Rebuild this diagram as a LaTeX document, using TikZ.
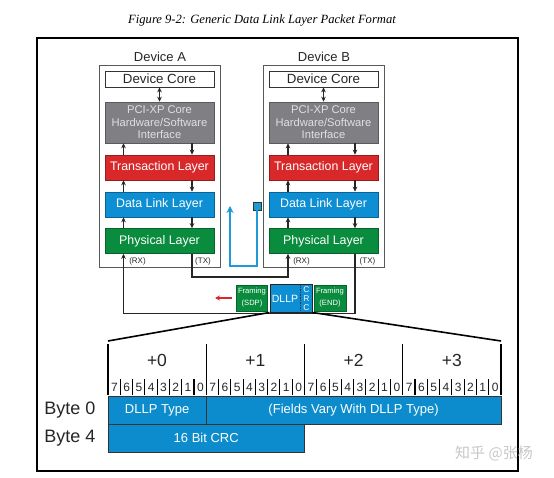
\documentclass[tikz,border=0pt]{standalone}
\usepackage{fontspec}
\setmainfont{Liberation Sans}
\newfontfamily\titlefont{Liberation Serif}
\newfontfamily\cjk{Noto Sans CJK SC}
\usetikzlibrary{arrows.meta}

\definecolor{tlred}{HTML}{D9282A}
\definecolor{dlblue}{HTML}{0E8ED3}
\definecolor{phgreen}{HTML}{0A8C3E}
\definecolor{coregray}{HTML}{808084}
\definecolor{rowblue}{HTML}{0C8CCD}
\definecolor{linkcyan}{HTML}{1E9AD6}

\tikzset{
  devframe/.style={draw=black!65, line width=0.9pt, minimum width=121pt, minimum height=202pt, inner sep=0pt},
  devlabel/.style={text=black!85, font=\fontsize{13}{15}\selectfont},
  corebox/.style={draw=black!80, line width=0.7pt, fill=white, minimum width=109pt, minimum height=16pt, inner sep=0pt, text=black!85, font=\fontsize{13.3}{15}\selectfont},
  pcibox/.style={draw=coregray!70!black, line width=0.6pt, fill=coregray, minimum width=109pt, minimum height=41pt, inner sep=0pt, align=center, text=white!88!black, font=\fontsize{11.2}{12.5}\selectfont},
  layerbox/.style={line width=0.6pt, minimum width=109pt, minimum height=25pt, inner sep=0pt, text=white, font=\fontsize{12.4}{14}\selectfont},
  layerarrow/.style={line width=1.2pt, black!85, -{Stealth[length=5pt,width=4.6pt]}},
  porttext/.style={text=black!85, font=\fontsize{8}{9}\selectfont},
  wire/.style={line width=1.3pt, black!85},
  framebox/.style={draw=phgreen!70!black, line width=0.6pt, fill=phgreen, minimum width=31pt, minimum height=26pt, inner sep=0pt, align=center, text=white, font=\fontsize{7.6}{12}\selectfont},
  rowcell/.style={draw=black!80, line width=0.7pt, fill=rowblue, minimum height=28pt, inner sep=0pt, text=white, font=\fontsize{13}{15}\selectfont},
  bytetext/.style={text=black!85, font=\fontsize{17.5}{20}\selectfont},
  bittext/.style={text=black!85, font=\fontsize{12}{14}\selectfont, inner sep=0pt},
  rowlabel/.style={text=black!85, font=\fontsize{18}{20}\selectfont}
}

\begin{document}
\begin{tikzpicture}[x=1pt, y=-1pt]
  \useasboundingbox (0,0) rectangle (554,478);

  % title and outer frame
  \node (title) at (262,20) {\titlefont\itshape\fontsize{12.6}{14}\selectfont Figure 9-2: Generic Data Link Layer Packet Format};
  \draw[line width=1.2pt] (37,38) rectangle (518,471);

  % Device A
  \node[devframe] (devA) at (159.5,166) {};
  \node[devlabel] (labA) at (160,57) {Device A};
  \node[corebox] (coreA) at (159.5,79) {Device Core};
  \node[pcibox] (pciA) at (159.5,122.5) {PCI-XP Core\\Hardware/Software\\Interface};
  \node[layerbox, draw=tlred!70!black, fill=tlred] (transA) at (159.5,167.5) {Transaction Layer};
  \node[layerbox, draw=dlblue!70!black, fill=dlblue] (dllA) at (159.5,204.5) {Data Link Layer};
  \node[layerbox, draw=phgreen!70!black, fill=phgreen] (phyA) at (159.5,241) {Physical Layer};
  \node[porttext] (rxtextA) at (137.5,261) {(RX)};
  \node[porttext] (txtextA) at (203,261) {(TX)};

  \draw[layerarrow, {Stealth[length=5pt,width=4.6pt]}-{Stealth[length=5pt,width=4.6pt]}] (coreA) -- (pciA);
  \draw[layerarrow] ([xshift=-36pt]transA.north) -- ([xshift=-36pt]pciA.south);
  \draw[layerarrow] ([xshift=-36pt]dllA.north) -- ([xshift=-36pt]transA.south);
  \draw[layerarrow] ([xshift=-36pt]phyA.north) -- ([xshift=-36pt]dllA.south);
  \draw[layerarrow] ([xshift=32.5pt]pciA.south) -- ([xshift=32.5pt]transA.north);
  \draw[layerarrow] ([xshift=32.5pt]transA.south) -- ([xshift=32.5pt]dllA.north);
  \draw[layerarrow] ([xshift=32.5pt]dllA.south) -- ([xshift=32.5pt]phyA.north);

  % Device B
  \node[devframe] (devB) at (323.5,166) {};
  \node[devlabel] (labB) at (324,57) {Device B};
  \node[corebox] (coreB) at (323.5,79) {Device Core};
  \node[pcibox] (pciB) at (323.5,122.5) {PCI-XP Core\\Hardware/Software\\Interface};
  \node[layerbox, draw=tlred!70!black, fill=tlred] (transB) at (323.5,167.5) {Transaction Layer};
  \node[layerbox, draw=dlblue!70!black, fill=dlblue] (dllB) at (323.5,204.5) {Data Link Layer};
  \node[layerbox, draw=phgreen!70!black, fill=phgreen] (phyB) at (323.5,241) {Physical Layer};
  \node[porttext] (rxtextB) at (301.5,261) {(RX)};
  \node[porttext] (txtextB) at (367.5,261) {(TX)};

  \draw[layerarrow, {Stealth[length=5pt,width=4.6pt]}-{Stealth[length=5pt,width=4.6pt]}] (coreB) -- (pciB);
  \draw[layerarrow] ([xshift=-35.5pt]transB.north) -- ([xshift=-35.5pt]pciB.south);
  \draw[layerarrow] ([xshift=-35.5pt]dllB.north) -- ([xshift=-35.5pt]transB.south);
  \draw[layerarrow] ([xshift=-35.5pt]phyB.north) -- ([xshift=-35.5pt]dllB.south);
  \draw[layerarrow] ([xshift=31.5pt]pciB.south) -- ([xshift=31.5pt]transB.north);
  \draw[layerarrow] ([xshift=31.5pt]transB.south) -- ([xshift=31.5pt]dllB.north);
  \draw[layerarrow] ([xshift=31.5pt]dllB.south) -- ([xshift=31.5pt]phyB.north);

  % link between the devices
  \coordinate (rxA) at (123.5,313.5);
  \coordinate (txB) at (355,313.5);
  \coordinate (txA) at (192,277);
  \coordinate (rxB) at (288,277);
  \draw[wire, -{Stealth[length=5pt,width=4.6pt]}] (txB |- phyB.south) -- (txB) -- (rxA) -- (rxA |- phyA.south);
  \draw[wire, -{Stealth[length=5pt,width=4.6pt]}] (txA |- phyA.south) -- (txA) -- (rxB) -- (rxB |- phyB.south);

  % DLLP passing up the link
  \node[draw=black!80, line width=0.6pt, fill=linkcyan, minimum size=8pt, inner sep=0pt] (dlpsq) at (257,206) {};
  \coordinate (loopR) at (257,266);
  \coordinate (loopL) at (230,266);
  \coordinate (loopTop) at (230,206);
  \draw[line width=1.6pt, linkcyan, -{Stealth[length=7pt,width=7pt]}] (dlpsq.south) -- (loopR) -- (loopL) -- (loopTop);

  % packet on the wire
  \node[framebox] (sdp) at (252,298) {Framing\\(SDP)};
  \node[draw=black!85, line width=1pt, fill=dlblue, minimum width=42pt, minimum height=27pt, inner sep=0pt] (dllp) at (291,298.5) {};
  \node[text=white, font=\fontsize{10.5}{12}\selectfont] (dllptext) at (285,298.5) {DLLP};
  \node[text=white, font=\fontsize{8.4}{8.8}\selectfont, align=center, inner sep=0pt] (crctext) at (306.5,298.5) {C\\R\\C};
  \draw[black!80, line width=0.8pt, dash pattern=on 1.5pt off 1pt] (dllp.north -| 300,0) -- (dllp.south -| 300,0);
  \node[framebox, minimum width=32pt] (endf) at (330,298) {Framing\\(END)};
  \coordinate (outleft) at (215,298);
  \draw[line width=1.6pt, tlred, -{Stealth[length=5pt,width=5pt]}, shorten <=4pt] (sdp.west) -- (outleft);

  % fan out to the format
  \coordinate (fmtL) at (108,341);
  \coordinate (fmtR) at (501,341);
  \draw[line width=1.6pt] (dllp.south west) -- (fmtL);
  \draw[line width=1.6pt] (dllp.south east) -- (fmtR);

  % routine for byte ticks
  \draw[line width=1.3pt] (108,344) -- (108,395);
  \draw[line width=1.3pt] (206.25,344) -- (206.25,395);
  \draw[line width=1.3pt] (304.5,344) -- (304.5,395);
  \draw[line width=1.3pt] (402.75,344) -- (402.75,395);
  \draw[line width=1.3pt] (501,344) -- (501,395);
  \node[bytetext] (plus0) at (157,360) {+0};
  \node[bytetext] (plus1) at (255.4,360) {+1};
  \node[bytetext] (plus2) at (353.6,360) {+2};
  \node[bytetext] (plus3) at (451.9,360) {+3};

  % routine for bit ticks
  \foreach \b in {0,...,3} {
    \foreach \i in {1,...,7} {
      \draw[line width=1.1pt] (108+98.25*\b+12.28*\i,379) -- (108+98.25*\b+12.28*\i,395);
    }
    \foreach \i in {0,...,7} {
      \pgfmathtruncatemacro{\bit}{7-\i}
      \node[bittext] at (108+98.25*\b+12.28*\i+6.4,387.5) {\bit};
    }
  }

  % rows of the format
  \node[rowlabel] (byte0) at (70,410) {Byte 0};
  \node[rowlabel] (byte4) at (70,438.5) {Byte 4};
  \node[rowcell, minimum width=98.25pt] (dllptype) at (157.1,410) {DLLP Type};
  \node[rowcell, minimum width=294.75pt] (fields) at (353.6,410) {(Fields Vary With DLLP Type)};
  \node[rowcell, minimum width=196.5pt] (crc16) at (206.25,438) {16 Bit CRC};

  % watermark
  \node[text=black!22, font=\cjk\fontsize{15}{17}\selectfont] (mark) at (494,453) {知乎 @张杨};
\end{tikzpicture}
\end{document}
